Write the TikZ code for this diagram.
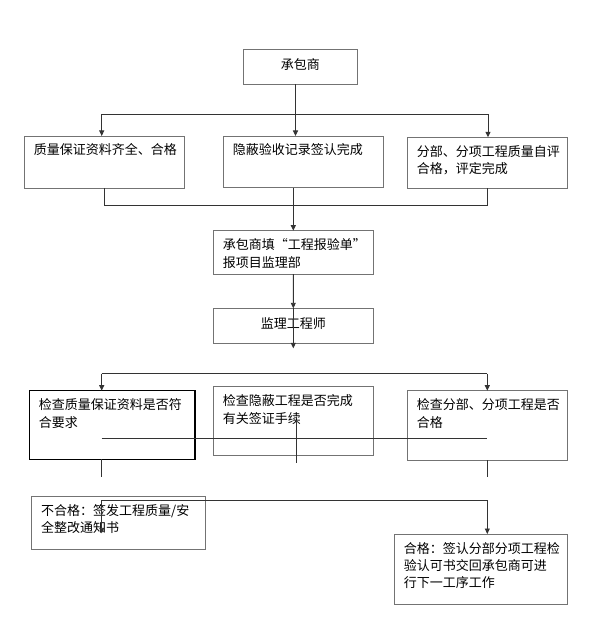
\documentclass[tikz,border=0pt]{standalone}
\usepackage{fontspec}
\newfontfamily\cjk{Noto Sans CJK SC}
\usetikzlibrary{arrows.meta,calc}
\newcommand\pb[3]{\parbox[t][#2bp][t]{#1bp}{\raggedright\rule{0pt}{12bp}#3}}
\tikzset{
  box/.style={draw=black!55, line width=0.8bp, inner sep=0pt, outer sep=0pt},
  tbox/.style={box, anchor=north west, inner xsep=9.5bp, inner ysep=7bp},
  cbox/.style={box, align=center, text height=11bp, text depth=6bp},
  darkbox/.style={draw=black, line width=1.1bp},
  ln/.style={draw=black!80, line width=0.9bp},
  arr/.style={ln, -{Triangle[length=5.5bp,width=5bp]}},
  every node/.style={font={\cjk\fontsize{13bp}{17.3bp}\selectfont}},
}
\begin{document}
\begin{tikzpicture}[x=1bp,y=-1bp]
\fill[white] (0,0) rectangle (593,632);
\useasboundingbox (0,0) rectangle (593,632);

% boxes
\node[cbox, minimum width=113.5bp, minimum height=35bp] (b0) at (300.25,66.8) {承包商};
\node[tbox] (b1) at (24.3,136)   {\pb{141.2}{38}{质量保证资料齐全、合格}};
\node[tbox] (b2) at (223.3,136)  {\pb{141}{37.7}{隐蔽验收记录签认完成}};
\node[tbox] (b3) at (407.3,137.3){\pb{141}{37}{分部、分项工程质量自评\\合格，评定完成}};
\node[tbox] (b4) at (213.3,230.7){\pb{141}{29.3}{承包商填“工程报验单”\\报项目监理部}};
\node[cbox, minimum width=160bp, minimum height=35bp] (b5) at (293.3,325.8) {监理工程师};
\node[tbox, darkbox] (b6) at (29.3,390.7) {\pb{146.7}{54.6}{检查质量保证资料是否符\\合要求}};
\node[tbox] (b7) at (213.3,386.7){\pb{141}{55}{检查隐蔽工程是否完成\\有关签证手续}};
\node[tbox] (b8) at (407.3,390.7){\pb{141}{55.3}{检查分部、分项工程是否\\合格}};
\node[tbox] (b9) at (31.7,496)   {\pb{154.3}{39}{不合格：签发工程质量/安\\全整改通知书}};
\node[tbox] (b10) at (394.3,534) {\pb{154.4}{56}{合格：签认分部分项工程检\\验认可书交回承包商可进\\行下一工序工作}};

% junction coordinates
\coordinate (j0)  at (295.5,114.3);
\coordinate (j0l) at (101.7,114.3);
\coordinate (j0r) at (488,114.3);
\coordinate (j1)  at (0,205);
\coordinate (a1)  at (293.3,348.3);
\coordinate (j2l) at (101.7,373.5);
\coordinate (j2r) at (487.3,373.5);
\coordinate (h1l) at (101.7,438.5);
\coordinate (h1r) at (487.3,438.5);
\coordinate (m1)  at (296,420);
\coordinate (m2)  at (296,463.3);
\coordinate (l1)  at (101.7,476.7);
\coordinate (r1)  at (487.3,476.7);
\coordinate (k0)  at (101.7,500);
\coordinate (k1)  at (487.3,500);
\coordinate (k2)  at (101.7,533.3);

% connectors
\draw[ln] (b0.south -| j0) -- (j0);
\draw[ln] (j0l) -- (j0r);
\draw[arr] (j0l) -- (b1.north -| j0l);
\draw[arr] (j0) -- (b2.north -| j0);
\draw[arr] (j0r) -- (b3.north -| j0r);

\draw[ln] (b1.south) -- (b1.south |- j1) -- (b3.south |- j1) -- (b3.south);
\draw[arr] (b2.south -| b4.north) -- (b4.north);
\draw[arr] (b4.south) -- (b5.north);
\draw[arr] (b5.north) -- (a1);

\draw[ln] (j2l) -- (j2r);
\draw[arr] (j2l) -- (b6.north -| j2l);
\draw[arr] (j2r) -- (b8.north -| j2r);

\draw[ln] (h1l) -- (h1r);
\draw[ln] (m1) -- (m2);
\draw[ln] (b6.south -| l1) -- (l1);
\draw[ln] (b8.south -| r1) -- (r1);

\draw[ln] (k0) -- (k1);
\draw[arr] (k0) -- (k2);
\draw[arr] (k1) -- (b10.north -| k1);
\end{tikzpicture}
\end{document}
